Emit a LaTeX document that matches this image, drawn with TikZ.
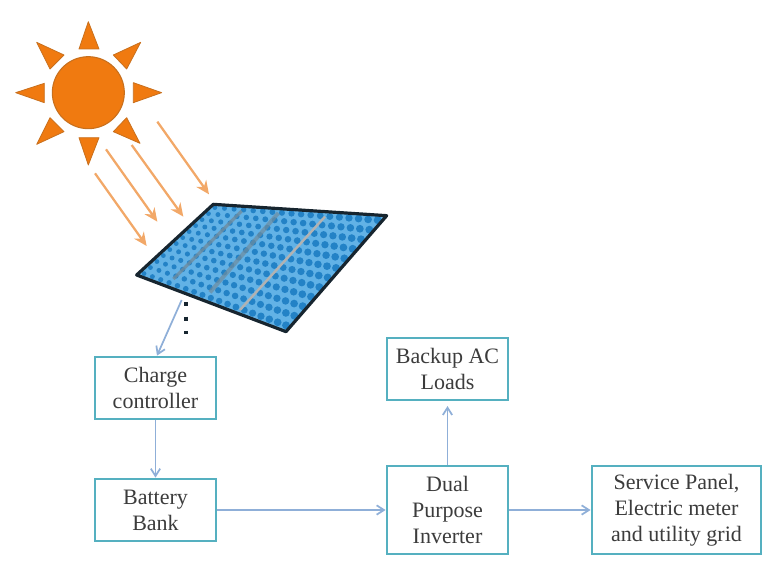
\documentclass[tikz,border=0pt]{standalone}
\usepackage{fontspec}
\setmainfont{Liberation Serif}
\usetikzlibrary{arrows.meta,calc}
\definecolor{boxteal}{HTML}{55B0C0}
\definecolor{linkblue}{HTML}{8FAFD8}
\definecolor{sunorange}{HTML}{F07A10}
\definecolor{sunedge}{HTML}{C8701E}
\definecolor{rayorange}{HTML}{F2A868}
\definecolor{txtgray}{HTML}{3C3C3C}
\definecolor{panelbg}{HTML}{62B2E6}
\definecolor{paneldot}{HTML}{2382C6}
\definecolor{panelframe}{HTML}{17252F}
\definecolor{stripgray}{HTML}{6F8C9E}
\tikzset{
  blockbox/.style={draw=boxteal,line width=2.1pt,fill=white,align=center,inner sep=0pt,text=txtgray,
    font=\fontsize{16.5}{19.5}\selectfont},
  link/.style={draw=linkblue,line width=1.3pt,-{Straight Barb[length=5.5pt,width=7pt]}},
  ray/.style={draw=rayorange,line width=1.7pt,-{Stealth[length=10pt,width=9pt]}},
  flare/.style={fill=sunorange,draw=sunedge,line width=.6pt,line join=round},
}
\begin{document}
\begin{tikzpicture}[x=.75pt,y=-.75pt]
\useasboundingbox (0,0) rectangle (778,563);
% sun
\begin{scope}[shift={(0,10)},scale=1/3]
  \fill[sunorange,draw=sunedge,line width=.8pt] (265,248) circle (108);
  \path[flare] (265,35) -- (237,117) -- (297,117) -- cycle;
  \path[flare] (422,97) -- (340,135) -- (380,177) -- cycle;
  \path[flare] (485,248) -- (400,218) -- (400,278) -- cycle;
  \path[flare] (420,400) -- (380,323) -- (340,365) -- cycle;
  \path[flare] (265,465) -- (237,383) -- (297,383) -- cycle;
  \path[flare] (110,403) -- (150,323) -- (192,365) -- cycle;
  \path[flare] (47,248) -- (133,220) -- (133,278) -- cycle;
  \path[flare] (110,97) -- (192,135) -- (150,177) -- cycle;
  \coordinate (r1a) at (285,490); \coordinate (r1b) at (440,708);
  \coordinate (r2a) at (318,418); \coordinate (r2b) at (472,635);
  \coordinate (r3a) at (395,405); \coordinate (r3b) at (550,620);
  \coordinate (r4a) at (472,335); \coordinate (r4b) at (627,553);
\end{scope}
\draw[ray] (r1a) -- (r1b);
\draw[ray] (r2a) -- (r2b);
\draw[ray] (r3a) -- (r3b);
\draw[ray] (r4a) -- (r4b);
% solar panel
\begin{scope}[shift={(130,195)},scale=1/3]
  \coordinate (pA) at (20,240);
  \coordinate (pB) at (250,28);
  \coordinate (pC) at (770,62);
  \coordinate (pD) at (468,410);
  \coordinate (pwire) at (155,315);
  \fill[panelbg] (pA) -- (pB) -- (pC) -- (pD) -- cycle;
  \foreach \i in {1,...,18}{
    \foreach \j in {1,...,12}{
      \pgfmathsetmacro{\uu}{(\i-.5)/18}
      \pgfmathsetmacro{\vv}{(\j-.5)/12}
      \pgfmathsetmacro{\rr}{7+5*\uu}
      \fill[paneldot] ($($(pA)!\uu!(pD)$)!\vv!($(pB)!\uu!(pC)$)$) circle (\rr);
    }
  }
  \draw[stripgray,opacity=.8,line width=2.4pt] (335,48) -- (130,252);
  \draw[stripgray,opacity=.7,line width=3pt] (445,54) -- (240,292);
  \draw[gray!60,line width=1.8pt] (585,65) -- (330,345);
  \draw[panelframe,line width=2.4pt,line join=round] (pA) -- (pB) -- (pC) -- (pD) -- cycle;
  \draw[panelframe,line width=2.4pt,dash pattern=on 3pt off 7.7pt] (168,322) -- (168,418);
\end{scope}
% blocks
\node[blockbox,minimum width=90.75pt,minimum height=46.5pt] (charge) at (155.5,388) {Charge\\controller};
\node[blockbox,minimum width=90.75pt,minimum height=46.5pt] (battery) at (155.5,510) {Battery\\Bank};
\node[blockbox,minimum width=90.75pt,minimum height=66pt] (inverter) at (447.5,510) {Dual\\Purpose\\Inverter};
\node[blockbox,minimum width=90.75pt,minimum height=46.5pt] (backup) at (447.5,369) {Backup AC\\Loads};
\node[blockbox,minimum width=126.75pt,minimum height=66pt] (service) at (676.5,510) {Service Panel,\\Electric meter\\and utility grid};
% connectors
\draw[link] (pwire) -- ($(charge.north)+(1.5,0)$);
\draw[link] (charge) -- (battery);
\draw[link] (battery) -- (inverter);
\draw[link,shorten >=3.5pt] (inverter) -- (backup);
\draw[link] (inverter) -- (service);
\end{tikzpicture}
\end{document}
